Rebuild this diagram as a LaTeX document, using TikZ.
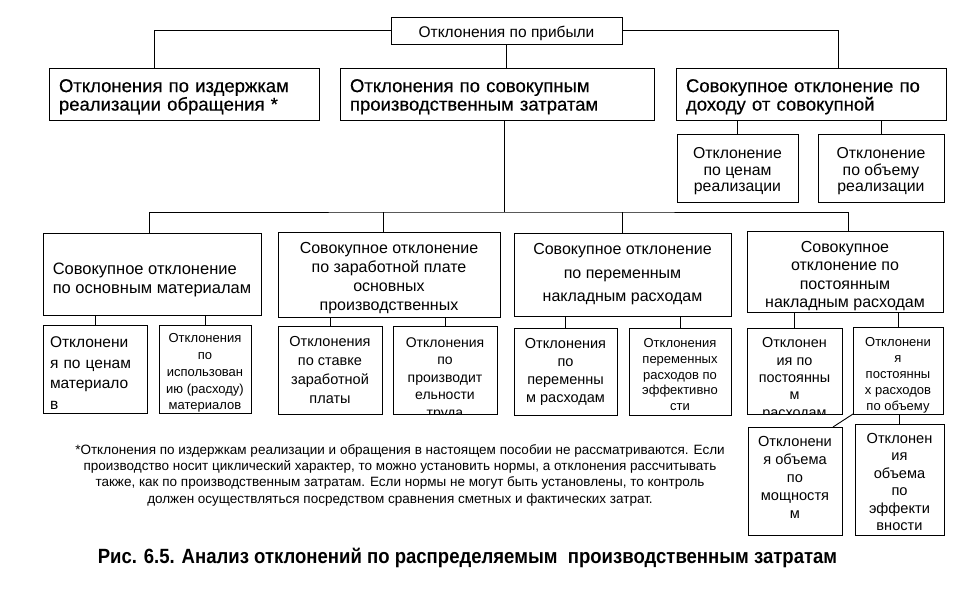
\documentclass[tikz,border=0pt]{standalone}
\usepackage{fontspec}
\setmainfont{Liberation Sans}
\newfontfamily\headfont[FakeBold=0.4]{Liberation Sans}
\newfontfamily\titlefont[FakeStretch=0.9]{Liberation Sans}
\newcommand{\padtop}[1]{\rule{0pt}{#1pt}}
\newcommand{\padbot}[1]{\rule[-#1pt]{0pt}{0pt}}
\begin{document}
\begin{tikzpicture}[x=1pt,y=-1pt,line width=0.9pt,
  box/.style={draw,inner sep=0pt,outer sep=0pt,align=center},
  big/.style={font=\headfont\fontsize{18.5}{18.5}\selectfont},
  mid/.style={font=\fontsize{16}{19}\selectfont},
  leaf/.style={font=\fontsize{14.5}{19}\selectfont},
  tiny/.style={font=\fontsize{13}{17.5}\selectfont}]
\useasboundingbox (0,0) rectangle (971,590);
\node[box,minimum width=231,minimum height=27,font=\fontsize{15.5}{16}\selectfont] (T) at (506.5,30.5) {\padtop{16.5}Отклонения по прибыли};
\node[box,big,align=left,text width=250,minimum width=270,minimum height=52] (A) at (184,94) {\padtop{18.5}Отклонения по издержкам\\реализации обращения *};
\node[box,big,align=left,text width=294,minimum width=314,minimum height=52] (B) at (497,94) {\padtop{18.5}Отклонения по совокупным\\производственным затратам};
\node[box,big,align=left,text width=250,minimum width=270,minimum height=52] (C) at (811,94) {\padtop{18.5}Совокупное отклонение по\\доходу от совокупной};
\node[box,font=\fontsize{15.8}{16.5}\selectfont,minimum width=121,minimum height=68] (C1) at (737.5,168) {\padtop{17.5}Отклонение\\по ценам\\реализации};
\node[box,font=\fontsize{15.8}{16.5}\selectfont,minimum width=126,minimum height=68] (C2) at (881,168) {\padtop{17.5}Отклонение\\по объему\\реализации};
\node[box,mid,font=\fontsize{16.5}{19}\selectfont,align=left,minimum width=218,minimum height=82] (L1) at (152,274) {\padtop{23}Совокупное отклонение\\по основным материалам};
\node[box,mid,minimum width=222,minimum height=85] (L2) at (389,274.5) {\padtop{18.5}Совокупное отклонение\\по заработной плате\\основных\\производственных};
\node[box,mid,font=\fontsize{16}{23.5}\selectfont,minimum width=217,minimum height=83] (L3) at (622.5,274.5) {Совокупное отклонение\\по переменным\\накладным расходам};
\node[box,mid,font=\fontsize{16}{18.5}\selectfont,minimum width=196,minimum height=81] (L4) at (845,271.5) {\padtop{20.5}Совокупное\\отклонение по\\постоянным\\накладным расходам};
\node[box,leaf,align=left,text width=90,font=\fontsize{15.5}{20.5}\selectfont,minimum width=104,minimum height=88] (L1a) at (95,369) {\padtop{19}Отклонени\\я по ценам\\материало\\в};
\node[box,minimum width=92,minimum height=88,path picture={
  \node[align=center,anchor=north,font=\fontsize{13}{16.8}\selectfont] at ([yshift=-4pt]path picture bounding box.north) {Отклонения\\по\\использован\\ию (расходу)\\материалов};}] (L1b) at (205,369) {};
\node[box,leaf,minimum width=104,minimum height=88] (L2a) at (330,370) {Отклонения\\по ставке\\заработной\\платы};
\node[box,minimum width=104,minimum height=88,path picture={
  \node[align=center,anchor=north,font=\fontsize{14}{17.5}\selectfont] at ([yshift=-9pt]path picture bounding box.north) {Отклонения\\по\\производит\\ельности\\труда};}] (L2b) at (445,370) {};
\node[box,leaf,font=\fontsize{14.5}{18}\selectfont,minimum width=103,minimum height=87] (L3a) at (565.5,371.5) {Отклонения\\по\\переменны\\м расходам};
\node[box,tiny,font=\fontsize{13}{15.8}\selectfont,minimum width=102,minimum height=87] (L3b) at (680,371.5) {\padtop{15.5}Отклонения\\переменных\\расходов по\\эффективно\\сти};
\node[box,minimum width=95,minimum height=86,path picture={
  \node[align=center,anchor=north,font=\fontsize{14.4}{17.3}\selectfont] at ([yshift=-8pt]path picture bounding box.north) {Отклонен\\ия по\\постоянны\\м\\расходам};}] (L4a) at (794.5,371) {};
\node[box,tiny,font=\fontsize{13}{16}\selectfont,minimum width=90,minimum height=87] (L4b) at (898,370.5) {\padtop{19.5}Отклонени\\я\\постоянны\\х расходов\\по объему};
\node[box,font=\fontsize{14.6}{18}\selectfont,minimum width=94,minimum height=108] (L4b1) at (795,481) {Отклонени\\я объема\\по\\мощностя\\м\padbot{7}};
\node[box,font=\fontsize{14.6}{17.5}\selectfont,minimum width=89,minimum height=111] (L4b2) at (899.5,479.5) {\padtop{15}Отклонен\\ия\\объема\\по\\эффекти\\вности};
\node[align=center,font=\fontsize{13.5}{16.3}\selectfont] (note) at (400,475) {*Отклонения по издержкам реализации и обращения в настоящем пособии не рассматриваются. Если\\производство носит циклический характер, то можно установить нормы, а отклонения рассчитывать\\также, как по производственным затратам. Если нормы не могут быть установлены, то контроль\\должен осуществляться посредством сравнения сметных и фактических затрат.};
\node[font=\titlefont\bfseries\fontsize{20.6}{22}\selectfont] (title) at (467.5,558) {Рис. 6.5. Анализ отклонений по распределяемым\ \ производственным затратам};
\coordinate (bus) at (504,212);
\draw (T.west) -| ([xshift=-30pt]A.north);
\draw (T.east) -| ([xshift=27pt]C.north);
\draw (T.south) -- (T.south |- B.north);
\draw (bus |- B.south) -- (bus);
\draw ([xshift=-3pt]L1.north) |- (bus) -| ([xshift=3pt]L4.north);
\draw ([xshift=-6pt]L2.north) -- ([xshift=-6pt]L2.north |- bus);
\draw (L3.north) -- (L3.north |- bus);
\foreach \p/\c in {C/C1,C/C2,L1/L1a,L1/L1b,L2/L2a,L2/L2b,L3/L3a,L3/L3b,L4/L4a,L4/L4b,L4b/L4b2}
  \draw (\c.north) -- (\c.north |- \p.south);
\draw (L4b.south west) -- ([xshift=-9pt]L4b1.north east);
\end{tikzpicture}
\end{document}
